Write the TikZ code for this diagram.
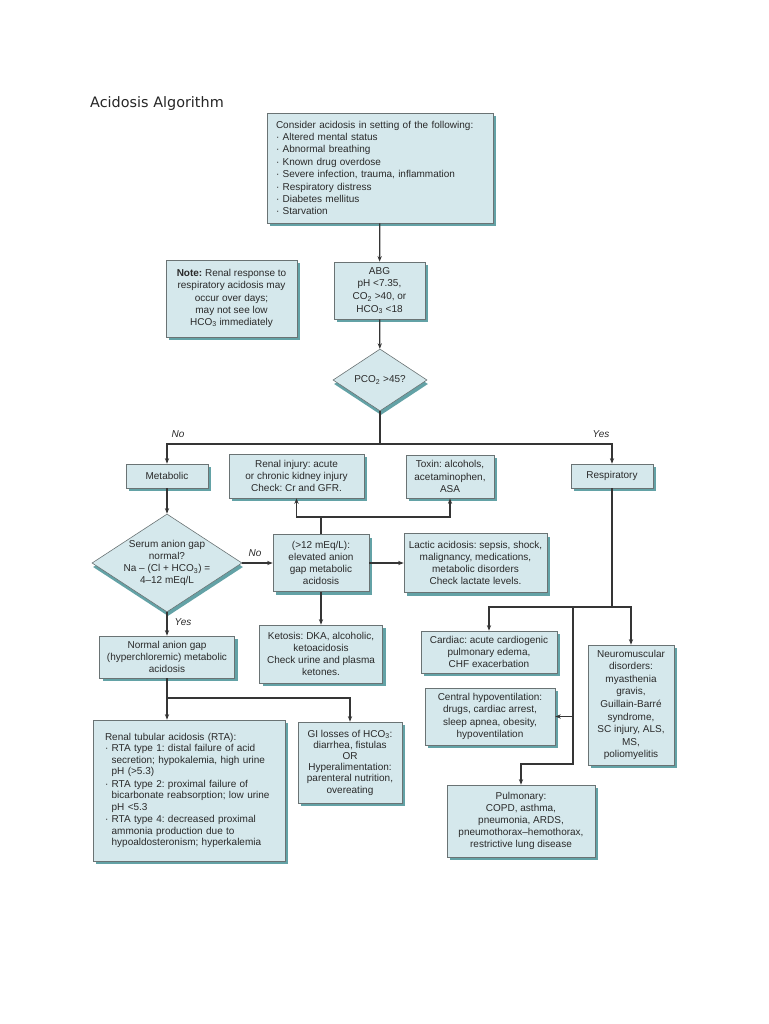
\documentclass[tikz,border=0pt]{standalone}
\usepackage{fontspec}
\setmainfont{Liberation Sans}
\newfontfamily\titlefont{DejaVu Sans}
\usepackage{tikz}
\usetikzlibrary{shapes,arrows,arrows.meta,positioning,calc,shadows}
\definecolor{boxfill}{HTML}{D5E8EC}
\definecolor{boxline}{HTML}{6A7374}
\definecolor{shadowteal}{HTML}{63A2A6}
\definecolor{wirecol}{HTML}{353535}
\definecolor{inkcol}{HTML}{2A2A2A}
\frenchspacing

\begin{document}
\begin{tikzpicture}[x=1pt, y=-1pt]
  % Define styles
  \tikzstyle{box} = [rectangle, draw=boxline, fill=boxfill, line width=0.6pt, text=inkcol, align=center, inner sep=3pt, font=\fontsize{10}{12.2}\selectfont, drop shadow={shadow xshift=3pt, shadow yshift=-3pt, fill=shadowteal, opacity=1}]
  \tikzstyle{decision} = [diamond, draw=boxline, fill=boxfill, line width=0.6pt, inner sep=0pt, drop shadow={shadow xshift=1pt, shadow yshift=-4pt, fill=shadowteal, opacity=1}]
  \tikzstyle{dtext} = [font=\fontsize{10}{12}\selectfont, text=inkcol, align=center]
  \tikzstyle{arrow} = [line width=1.3pt, draw=wirecol, ->, >={Stealth[length=5.5pt,width=4.2pt]}]
  \tikzstyle{wire} = [line width=1.3pt, draw=wirecol]
  \tikzstyle{answer} = [font=\fontsize{10}{12}\selectfont\itshape, text=inkcol]

  \useasboundingbox (0,0) rectangle (768,1024);

  \node [font=\titlefont\fontsize{14.4}{17}\selectfont, anchor=base west, inner sep=0pt, text=black!85] (title) at (90,107.5) {Acidosis Algorithm};

  % Top of the chart
  \node [box, text width=208pt, align=left, inner xsep=9pt, minimum height=110pt, font=\fontsize{10}{12.4}\selectfont] (consider) at (380,168) {
    Consider acidosis in setting of the following:\\
    · Altered mental status\\
    · Abnormal breathing\\
    · Known drug overdose\\
    · Severe infection, trauma, inflammation\\
    · Respiratory distress\\
    · Diabetes mellitus\\
    · Starvation
  };

  \node [box, minimum width=91pt, minimum height=57pt, font=\fontsize{10}{12.7}\selectfont] (abg) at (379.5,290.5) {
    ABG\\
    pH <7.35,\\
    CO\textsubscript{2} >40, or\\
    HCO\textsubscript{3} <18
  };

  \node [box, minimum width=131pt, minimum height=77pt] (note) at (231.5,298.5) {
    \textbf{Note:} Renal response to\\
    respiratory acidosis may\\
    occur over days;\\
    may not see low\\
    HCO\textsubscript{3} immediately
  };

  \node [decision, minimum width=94pt, minimum height=62pt, label={[dtext]center:{PCO\textsubscript{2} >45?}}] (pco2) at (380,380) {};

  % Second row
  \node [box, minimum width=82pt, minimum height=24pt] (metabolic) at (167,476) {Metabolic};
  \node [box, minimum width=82pt, minimum height=24pt] (respiratory) at (612,476) {Respiratory};
  \node [box, minimum width=135pt, minimum height=44pt] (renal) at (296.5,476) {
    Renal injury: acute\\
    or chronic kidney injury\\
    Check: Cr and GFR.
  };
  \node [box, minimum width=88pt, minimum height=43pt] (toxin) at (450,476.5) {
    Toxin: alcohols,\\
    acetaminophen,\\
    ASA
  };

  % Metabolic side
  \node [decision, minimum width=150pt, minimum height=98pt, label={[dtext]center:{Serum anion gap\\normal?\\Na -- (Cl + HCO\textsubscript{3}) =\\4--12 mEq/L}}] (serum) at (167,563) {};

  \node [box, minimum width=96pt, minimum height=57pt] (elevated) at (321,563) {
    (>12 mEq/L):\\
    elevated anion\\
    gap metabolic\\
    acidosis
  };
  \node [box, minimum width=143pt, minimum height=59pt] (lactic) at (475.5,563) {
    Lactic acidosis: sepsis, shock,\\
    malignancy, medications,\\
    metabolic disorders\\
    Check lactate levels.
  };
  \node [box, minimum width=123pt, minimum height=58pt] (ketosis) at (321,654) {
    Ketosis: DKA, alcoholic,\\
    ketoacidosis\\
    Check urine and plasma\\
    ketones.
  };
  \node [box, minimum width=135pt, minimum height=42pt] (normal) at (167,657) {
    Normal anion gap\\
    (hyperchloremic) metabolic\\
    acidosis
  };

  \node [box, text width=168pt, align=left, inner xsep=12pt, minimum height=141pt, font=\fontsize{10}{11.3}\selectfont] (rta) at (189,790.5) {
    Renal tubular acidosis (RTA):\\
    · RTA type 1: distal failure of acid\\
    \phantom{· }secretion; hypokalemia, high urine\\
    \phantom{· }pH (>5.3)\\[1.6pt]
    · RTA type 2: proximal failure of\\
    \phantom{· }bicarbonate reabsorption; low urine\\
    \phantom{· }pH <5.3\\[1.6pt]
    · RTA type 4: decreased proximal\\
    \phantom{· }ammonia production due to\\
    \phantom{· }hypoaldosteronism; hyperkalemia
  };
  \node [box, minimum width=104pt, minimum height=81pt, font=\fontsize{10}{11.2}\selectfont] (gi) at (350,762.5) {
    GI losses of HCO\textsubscript{3}:\\
    diarrhea, fistulas\\
    OR\\
    Hyperalimentation:\\
    parenteral nutrition,\\
    overeating
  };

  % Respiratory side
  \node [box, minimum width=136pt, minimum height=42pt] (cardiac) at (489,652) {
    Cardiac: acute cardiogenic\\
    pulmonary edema,\\
    CHF exacerbation
  };
  \node [box, minimum width=130pt, minimum height=57pt] (central) at (490,716.5) {
    Central hypoventilation:\\
    drugs, cardiac arrest,\\
    sleep apnea, obesity,\\
    hypoventilation
  };
  \node [box, minimum width=86pt, minimum height=120pt, font=\fontsize{10}{12.6}\selectfont] (neuro) at (631,705) {
    Neuromuscular\\
    disorders:\\
    myasthenia\\
    gravis,\\
    Guillain-Barré\\
    syndrome,\\
    SC injury, ALS,\\
    MS,\\
    poliomyelitis
  };
  \node [box, minimum width=148pt, minimum height=72pt] (pulmonary) at (521,821) {
    Pulmonary:\\
    COPD, asthma,\\
    pneumonia, ARDS,\\
    pneumothorax--hemothorax,\\
    restrictive lung disease
  };

  % Yes / No answers
  \node [answer] (nomain) at (178,434) {No};
  \node [answer] (yesmain) at (601,434) {Yes};
  \node [answer] (nogap) at (255,553) {No};
  \node [answer] (yesgap) at (183,622) {Yes};

  % Connectors
  \coordinate (split) at (380,444);
  \coordinate (eup) at (321,517);
  \coordinate (nsplit) at (167,698);
  \coordinate (rsplit) at (612,607);
  \coordinate (rtrunk) at (573,607);
  \coordinate (rlow) at (573,764);

  \draw [arrow] (consider) -- (abg);
  \draw [arrow] (abg) -- (pco2);
  \draw [wire] (pco2.south) -- (split);
  \draw [arrow] (split) -| (metabolic);
  \draw [arrow] (split) -| (respiratory);

  \draw [arrow] (metabolic) -- (serum);
  \draw [arrow] (serum) -- (elevated);
  \draw [arrow] (serum) -- (normal);
  \draw [wire] (elevated) -- (eup);
  \draw [arrow] (eup) -| (renal);
  \draw [arrow] (eup) -| (toxin);
  \draw [arrow] (elevated) -- (lactic);
  \draw [arrow] (elevated) -- (ketosis);

  \draw [wire] (normal) -- (nsplit);
  \draw [arrow] (nsplit) -- (nsplit |- rta.north);
  \draw [arrow] (nsplit) -| (gi);

  \draw [wire] (respiratory) -- (rsplit);
  \draw [arrow] (rsplit) -| (cardiac);
  \draw [arrow] (rsplit) -| (neuro);
  \draw [arrow] (rtrunk) -- (rlow) -| (pulmonary);
  \draw [arrow] (rtrunk |- central) -- (central);

\end{tikzpicture}
\end{document}
